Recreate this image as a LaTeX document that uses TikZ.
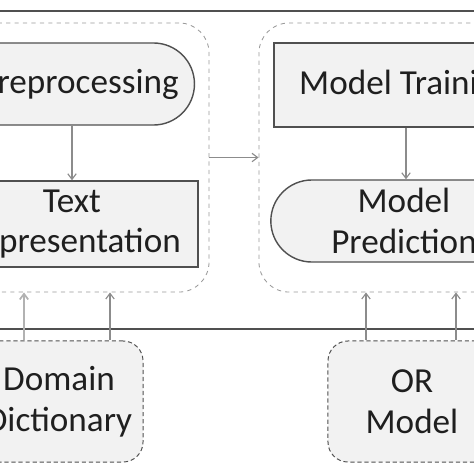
\documentclass[tikz,border=0pt]{standalone}
\usepackage{fontspec}
\setmainfont{Carlito}
\usetikzlibrary{arrows.meta,positioning,shapes.misc}
\definecolor{boxfill}{HTML}{F2F2F2}
\definecolor{boxline}{HTML}{505050}
\definecolor{arrowgray}{HTML}{8C8C8C}
\definecolor{dashgray}{HTML}{999999}

\begin{document}
\begin{tikzpicture}[x=0.025cm, y=-0.025cm,
    every node/.style={align=center, text=black!88, font=\fontsize{25}{29}\selectfont},
    stage/.style={draw=boxline, fill=boxfill, line width=1pt, inner sep=0pt},
    group/.style={draw=dashgray, dashed, rounded corners=0.75cm, line width=0.6pt},
    source/.style={draw=boxline, fill=boxfill, densely dashed, rounded corners=0.5cm, line width=0.7pt},
    link/.style={draw=arrowgray, line width=0.8pt, -{Straight Barb[length=4pt,width=6pt]}}]
    \useasboundingbox (0,0) rectangle (474,474);
    \clip (0,0) rectangle (474,474);

    % Gruppi
    \node[group, minimum width=7.2cm, minimum height=6.725cm] (grpL) at (65,157.5) {};
    \node[group, minimum width=7.3cm, minimum height=6.725cm] (grpR) at (405,157.5) {};

    % Fasi
    \node[stage, rounded rectangle, rounded rectangle west arc=none, minimum width=5.7cm, minimum height=2.05cm] (prep) at (79,84) {Preprocessing};
    \node[stage, minimum width=6.3cm, minimum height=2.15cm] (repr) at (72,224) {Text\\Representation};
    \node[stage, minimum width=6.6cm, minimum height=2.1cm] (train) at (406,85) {Model Training};
    \node[stage, rounded rectangle, rounded rectangle east arc=none, minimum width=6.25cm, minimum height=2.05cm] (pred) at (404,221) {Model\\Prediction};

    % Sorgenti
    \node[source, minimum width=4.2cm, minimum height=3.025cm] (dict) at (59,401.5) {Domain\\Dictionary};
    \node[source, minimum width=4.2cm, minimum height=3.025cm] (ormod) at (412,401.5) {OR\\Model};

    % Linee
    \draw[boxline, line width=1.1pt] (-10,11) -- (484,11);
    \draw[boxline, line width=1.1pt] (-10,329) -- (484,329);

    \draw[link] (repr.north |- prep.south) -- (repr.north);
    \draw[link] (grpL.east) -- (grpR.west);
    \draw[link] (train.south) -- (train.south |- pred.north);
    \draw[link, draw=black!30, line width=1.2pt] ([xshift=-0.875cm]dict.north) -- ([xshift=-0.875cm]dict.north |- grpL.south);
    \draw[link] ([xshift=1.275cm]dict.north) -- ([xshift=1.275cm]dict.north |- grpL.south);
    \draw[link] ([xshift=-1.15cm]ormod.north) -- ([xshift=-1.15cm]ormod.north |- grpR.south);
    \draw[link] ([xshift=1.1cm]ormod.north) -- ([xshift=1.1cm]ormod.north |- grpR.south);
\end{tikzpicture}
\end{document}
